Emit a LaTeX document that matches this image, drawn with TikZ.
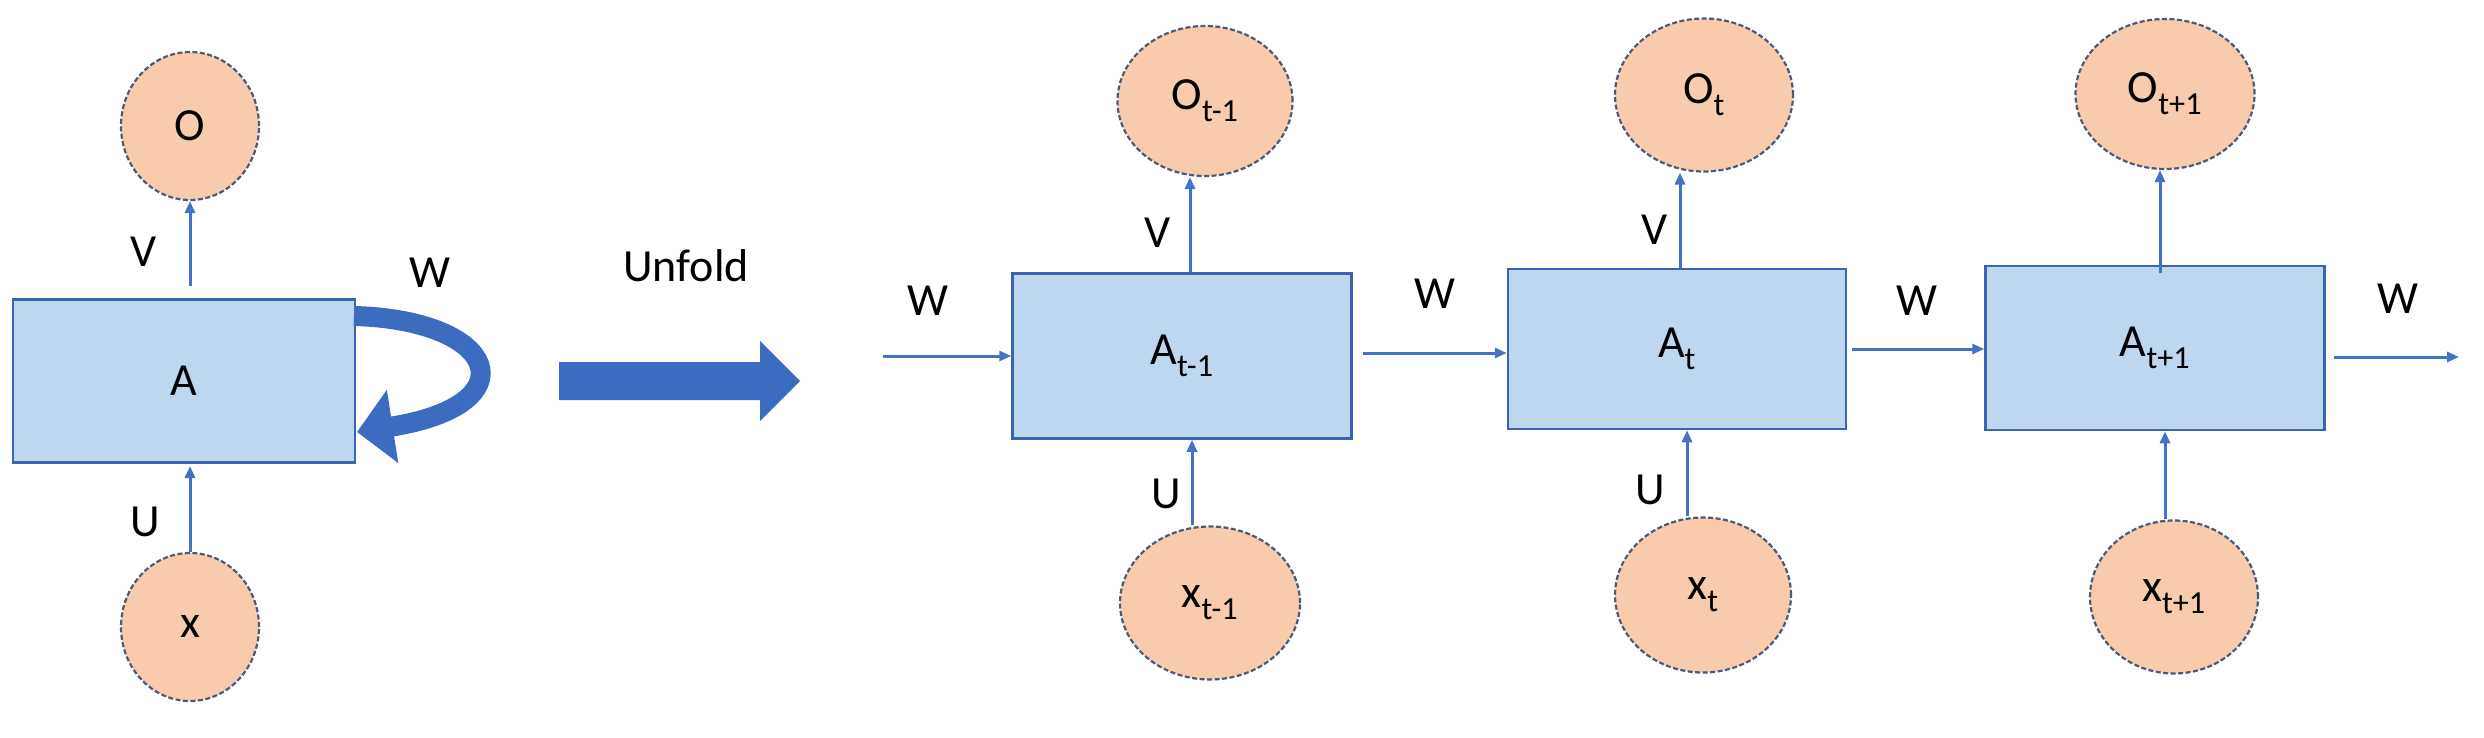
\documentclass[tikz,border=0pt]{standalone}
\usepackage{fontspec}
\setmainfont{Carlito}
\usetikzlibrary{shapes.geometric,arrows.meta}
\definecolor{peach}{HTML}{F8CBAD}
\definecolor{cellfill}{HTML}{BDD7EE}
\definecolor{cellline}{HTML}{3A64B0}
\definecolor{arr}{HTML}{4472C4}
\definecolor{bigarr}{HTML}{3C6CC0}
\definecolor{ring}{HTML}{4A5A78}
\begin{document}
\begin{tikzpicture}[x=1pt,y=-1pt,font=\fontsize{46}{52}\selectfont,
  circ/.style={ellipse,draw=ring,line width=2.2pt,dash pattern=on 5pt off 2.5pt,fill=peach,inner sep=0pt},
  cell/.style={rectangle,draw=cellline,line width=2.5pt,fill=cellfill,inner sep=0pt},
  link/.style={draw=arr,line width=3pt,-{Triangle[length=12pt,width=10pt]}},
  lab/.style={inner sep=0pt}]
\useasboundingbox (0,0) rectangle (2484,738);
% left folded
\node[circ,minimum width=138pt,minimum height=148pt] (O) at (190,126) {O};
\node[cell,minimum width=342pt,minimum height=163pt] (A) at (184,381) {A};
\node[circ,minimum width=138pt,minimum height=148pt] (X) at (190,627) {x};
\draw[link] (190,286) coordinate (a1) -- (O.south);
\draw[link] (X.north) -- (190,466);
\node[lab] (lV) at (144,252) {V};
\node[lab] (lU) at (145,522) {U};
\node[lab] (lW) at (430,273) {W};
\coordinate (ls) at (354,316);
\coordinate (le) at (357,432);
\draw[bigarr,line width=20pt,-{Triangle[length=36pt 0,width=72pt 0]}] (ls) .. controls (500,320) and (530,405) .. (le);
\node[lab] (unf) at (686,266) {Unfold};
\fill[bigarr] (559,362) -- (760,362) -- (760,341) -- (800,381) -- (760,421) -- (760,400) -- (559,400) -- cycle;
% unrolled
\node[cell,minimum width=339pt,minimum height=165pt] (A1) at (1182,356) {A\textsubscript{t-1}};
\node[cell,minimum width=338pt,minimum height=160pt] (A2) at (1677,349) {A\textsubscript{t}};
\node[cell,minimum width=339pt,minimum height=164pt] (A3) at (2155,348) {A\textsubscript{t+1}};
\node[circ,minimum width=175pt,minimum height=150pt] (O1) at (1205,101) {O\textsubscript{t-1}};
\node[circ,minimum width=178pt,minimum height=153pt] (O2) at (1704,95) {O\textsubscript{t}};
\node[circ,minimum width=179pt,minimum height=150pt] (O3) at (2165,94) {O\textsubscript{t+1}};
\node[circ,minimum width=180pt,minimum height=153pt] (X1) at (1210,603) {x\textsubscript{t-1}};
\node[circ,minimum width=176pt,minimum height=155pt] (X2) at (1703,595) {x\textsubscript{t}};
\node[circ,minimum width=168pt,minimum height=153pt] (X3) at (2174,597) {x\textsubscript{t+1}};
\coordinate (win) at (883,356);
\coordinate (wout) at (2459,357);
\draw[link] (win) -- (A1.west |- win);
\draw[link] ([xshift=10pt]A1.east |- 0,353) -- (A2.west |- 0,353);
\draw[link] ([xshift=5pt]A2.east |- 0,349) -- (A3.west |- 0,349);
\draw[link] ([xshift=8pt]A3.east |- wout) -- (wout);
\draw[link] (A1.north -| 1190,0) -- (O1.south -| 1190,0);
\draw[link] (A2.north -| 1680,0) -- (O2.south -| 1680,0);
\draw[link] ([yshift=-8pt]A3.north -| 2160,0) -- (O3.south -| 2160,0);
\draw[link] (X1.north -| 1192,0) -- (A1.south -| 1192,0);
\draw[link] (X2.north -| 1687,0) -- (A2.south -| 1687,0);
\draw[link] (X3.north -| 2165,0) -- (A3.south -| 2165,0);
\node[lab] (w1) at (928,301) {W};
\node[lab] (w2) at (1435,294) {W};
\node[lab] (w3) at (1917,301) {W};
\node[lab] (w4) at (2398,299) {W};
\node[lab] (v1) at (1158,233) {V};
\node[lab] (v2) at (1655,230) {V};
\node[lab] (u1) at (1166,494) {U};
\node[lab] (u2) at (1650,490) {U};
\end{tikzpicture}
\end{document}
